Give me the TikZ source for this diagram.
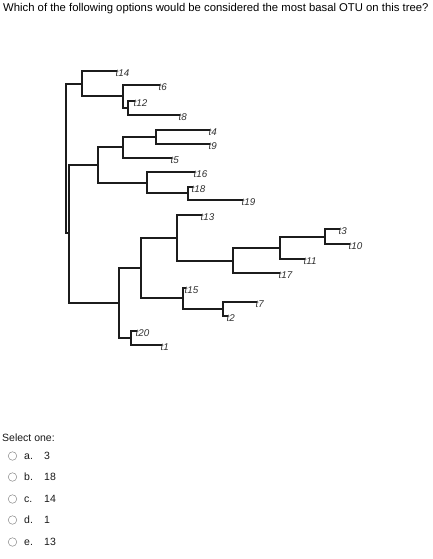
\documentclass[tikz,border=0pt]{standalone}
\usepackage{fontspec}
\setmainfont{Liberation Sans}
\usepackage{xcolor}
\usepackage{tikz}
\usetikzlibrary{positioning}
\definecolor{treeink}{HTML}{1C1C1C}
\definecolor{labink}{HTML}{303030}
\definecolor{radiogray}{HTML}{8A8A8A}

\begin{document}
\begin{tikzpicture}[x=1pt, y=-1pt,
  brn/.style={draw=treeink, line width=1.8pt},
  tiplab/.style={font=\fontsize{9.8}{10}\selectfont\itshape\color{labink}, anchor=base west, inner sep=0pt, xshift=-1.5pt, yshift=-5.5pt},
  qtext/.style={font=\fontsize{10.5}{12}\selectfont\color{black!90}, anchor=base west, inner sep=0pt},
  radio/.style={circle, draw=radiogray, line width=0.5pt, minimum size=8.5pt, inner sep=0pt},
]
\fill[white] (0,0) rectangle (433,559);
\node[qtext, font=\fontsize{11.3}{13}\selectfont] (quest) at (3,12) {Which of the following options would be considered the most basal OTU on this tree?};

\coordinate (root) at (66,158);
\coordinate (nA) at (82,84);
\coordinate (nB) at (123,96);
\coordinate (nC) at (128,108);
\coordinate (nD) at (69,233);
\coordinate (nE) at (98,165);
\coordinate (nF) at (123,147);
\coordinate (nG) at (156,137);
\coordinate (nH) at (147,183);
\coordinate (nI) at (188,193);
\coordinate (nK) at (119,303);
\coordinate (nL) at (141,268);
\coordinate (nM) at (177,238);
\coordinate (nN) at (233,261);
\coordinate (nO) at (280,248);
\coordinate (nQ) at (325,237);
\coordinate (nP) at (183,298);
\coordinate (nS) at (223,309);
\coordinate (nR) at (131,338);

\foreach \n/\x/\y in {14/117/71, 6/160/85, 12/135/101, 8/180/115, 4/210/130, 9/210/144, 5/172/158,
  16/195/172, 18/193/187, 19/243/200, 13/202/215, 3/340/229, 10/350/244, 11/305/259, 17/280/273,
  15/186/288, 7/257/302, 2/228/316, 20/137/331, 1/162/345}
{
  \coordinate (t\n) at (\x,\y);
  \node[tiplab] (lab\n) at (t\n) {t\n};
}

\foreach \p/\c in {root/nA, root/nD, nA/t14, nA/nB, nB/t6, nB/nC, nC/t12, nC/t8,
  nD/nE, nD/nK, nE/nF, nE/nH, nF/nG, nF/t5, nG/t4, nG/t9, nH/t16, nH/nI, nI/t18, nI/t19,
  nK/nL, nK/nR, nL/nM, nL/nP, nM/t13, nM/nN, nN/nO, nN/t17, nO/nQ, nO/t11, nQ/t3, nQ/t10,
  nP/t15, nP/nS, nS/t7, nS/t2, nR/t20, nR/t1}
  \draw[brn] (\p) |- (\c);

\node[qtext] (select) at (2,441) {Select one:};
\foreach \k/\v/\y in {a/3/456, b/18/477, c/14/499, d/1/520, e/13/542}
{
  \node[radio] (rad\k) at (12.5,\y) {};
  \node[qtext] (let\k) at (24,\y+3.8) {\k.};
  \node[qtext] (val\k) at (44,\y+3.8) {\v};
}
\end{tikzpicture}
\end{document}
